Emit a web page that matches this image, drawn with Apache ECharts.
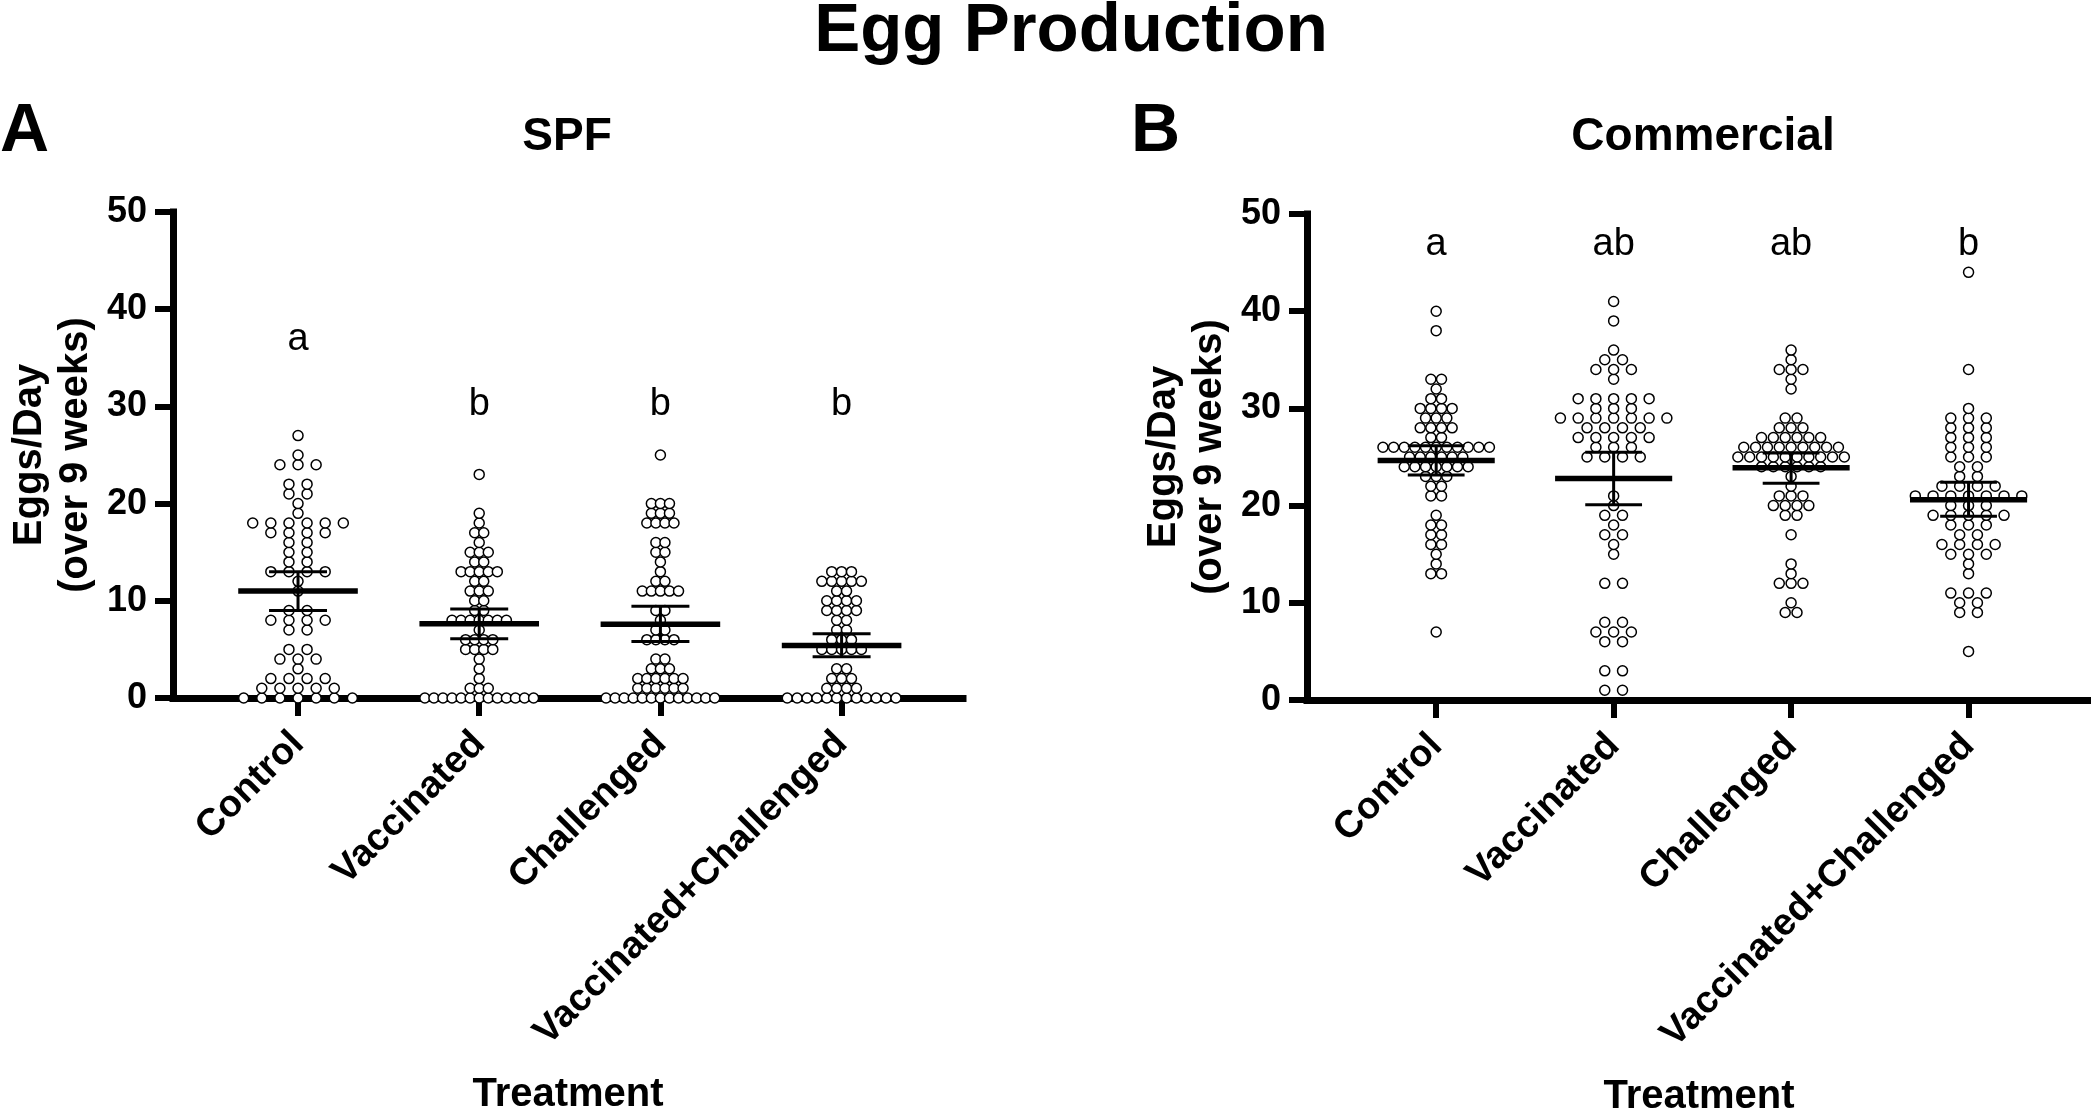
<!DOCTYPE html>
<html><head><meta charset="utf-8">
<script src="https://cdn.jsdelivr.net/npm/echarts@6/dist/echarts.min.js"></script>
<style>html,body{margin:0;padding:0;background:#fff}#c{width:2091px;height:1113px}</style>
</head><body><div id="c"></div>
<script>
// ---------- data ----------
const categories = ['Control', 'Vaccinated', 'Challenged', 'Vaccinated+Challenged'];
const yTickValues = [0, 10, 20, 30, 40, 50];

const spfControl = [27,25,24,24,24,22,22,21,21,20,19,18,18,18,18,18,18,17,17,17,17,16,16,15,15,14,14,13,13,13,13,12,11,9,9,8,8,8,8,7,7,5,5,4,4,4,3,2,2,2,2,1,1,1,1,1,0,0,0,0,0,0,0];
const spfVaccinated = [23,19,18,17,17,16,15,15,15,14,14,13,13,13,13,13,12,12,11,11,11,10,10,9,9,8,8,8,8,8,8,8,7,6,6,6,6,5,5,5,5,4,3,2,1,1,1,0,0,0,0,0,0,0,0,0,0,0,0,0];
const spfChallenged = [25,20,20,20,19,19,19,18,18,18,18,16,16,15,15,14,13,12,12,11,11,11,11,11,9,9,8,7,7,6,6,6,6,4,4,3,3,3,2,2,2,2,2,2,1,1,1,1,1,1,0,0,0,0,0,0,0,0,0,0,0,0,0];
const spfVacChal = [13,13,13,12,12,12,12,12,11,11,10,10,10,10,9,9,9,9,8,8,7,7,6,6,6,5,5,5,5,5,3,3,2,2,2,1,1,1,1,0,0,0,0,0,0,0,0,0,0,0,0];

const comControl = [40,38,33,33,32,31,31,30,30,30,30,29,29,29,28,28,28,28,27,27,26,26,26,26,26,26,26,26,26,26,26,25,25,25,25,25,25,24,24,24,24,24,24,24,23,23,23,22,22,21,21,19,18,18,17,17,16,16,15,14,13,13,7];
const comVaccinated = [41,39,36,35,35,34,34,34,33,31,31,31,31,31,30,30,30,29,29,29,29,29,29,29,28,28,28,28,27,27,27,27,27,26,26,26,25,25,25,25,21,20,19,19,18,17,17,16,15,12,12,8,8,7,7,7,6,6,3,3,1,1];
const comChallenged = [36,35,34,34,34,33,32,29,29,28,28,28,27,27,27,27,27,27,26,26,26,26,26,26,26,26,26,25,25,25,25,25,25,25,25,25,25,24,24,24,24,24,24,23,22,21,21,21,20,20,20,20,19,19,17,14,13,12,12,12,10,9,9];
const comVacChal = [44,34,30,29,29,29,28,28,28,27,27,27,26,26,26,25,25,25,24,24,23,23,22,22,22,22,21,21,21,21,21,21,21,20,20,20,19,19,19,19,19,18,18,18,17,17,16,16,16,16,15,15,15,14,13,11,11,11,10,10,9,9,5];

// mean and 95% CI
const spfMean  = [11.0, 7.65, 7.6, 5.4];
const spfLower = [9.0, 6.1, 5.8, 4.25];
const spfUpper = [13.0, 9.15, 9.45, 6.6];
const comMean  = [24.65, 22.8, 23.9, 20.6];
const comLower = [23.15, 20.1, 22.3, 18.9];
const comUpper = [26.15, 25.5, 25.4, 22.4];

// significance letters
const spfLetters = ['a', 'b', 'b', 'b'];
const spfLetterY = [36.9, 30.2, 30.2, 30.2];
const comLetters = ['a', 'ab', 'ab', 'b'];
const comLetterY = [46.9, 46.9, 46.9, 46.9];

// ---------- layout helpers ----------
const FONT = "'Liberation Sans', Arial, Helvetica, sans-serif";
const SWARM_WIDTH = 0.6; // widest row spans this fraction of a category step

function swarm(groups) {
  const pts = [];
  groups.forEach((vals, ci) => {
    const counts = {};
    vals.forEach(v => { counts[v] = (counts[v] || 0) + 1; });
    const maxCount = Math.max(...Object.values(counts));
    const step = maxCount > 1 ? SWARM_WIDTH / (maxCount - 1) : 0;
    Object.keys(counts).forEach(k => {
      const n = counts[k];
      for (let i = 0; i < n; i++) {
        pts.push([ci + (i - (n - 1) / 2) * step, Number(k)]);
      }
    });
  });
  return pts;
}

function statsData(mean, lo, hi) {
  return mean.map((m, i) => [i, m, lo[i], hi[i]]);
}

function renderStats(params, api) {
  const c = api.value(0), m = api.value(1), lo = api.value(2), hi = api.value(3);
  const pm = api.coord([c, m]);
  const plo = api.coord([c, lo]);
  const phi = api.coord([c, hi]);
  const unit = api.size([1, 0])[0];
  const mh = 0.33 * unit, ch = 0.16 * unit;
  const st = w => ({ stroke: '#000', lineWidth: w });
  return {
    type: 'group',
    children: [
      { type: 'line', shape: { x1: plo[0], y1: plo[1], x2: phi[0], y2: phi[1] }, style: st(3) },
      { type: 'line', shape: { x1: phi[0] - ch, y1: phi[1], x2: phi[0] + ch, y2: phi[1] }, style: st(3) },
      { type: 'line', shape: { x1: plo[0] - ch, y1: plo[1], x2: plo[0] + ch, y2: plo[1] }, style: st(3) },
      { type: 'line', shape: { x1: pm[0] - mh, y1: pm[1], x2: pm[0] + mh, y2: pm[1] }, style: st(5.5) }
    ]
  };
}

function makeLetterRenderer(letters) {
  return function (params, api) {
    const p = api.coord([api.value(0), api.value(1)]);
    return {
      type: 'text', x: p[0], y: p[1],
      style: {
        text: letters[params.dataIndex], fill: '#000', fontSize: 38, fontWeight: 'normal', fontFamily: FONT,
        align: 'center', verticalAlign: 'middle'
      }
    };
  };
}

const tickIdx = categories.map((c, i) => i);

function makeX(gridIndex, min, max) {
  return {
    gridIndex, type: 'value', min, max,
    splitLine: { show: false },
    axisLine: { show: true, onZero: false, lineStyle: { color: '#000', width: 7, cap: 'square' } },
    axisTick: { show: true, customValues: tickIdx, length: 18, lineStyle: { color: '#000', width: 6 } },
    axisLabel: {
      show: true, customValues: tickIdx, formatter: v => categories[Math.round(v)],
      rotate: 45, margin: 40, fontSize: 38, fontWeight: 'bold', color: '#000', fontFamily: FONT
    },
    name: 'Treatment', nameLocation: 'middle', nameGap: 377,
    nameTextStyle: { fontSize: 40, fontWeight: 'bold', color: '#000', fontFamily: FONT }
  };
}

function makeY(gridIndex) {
  return {
    gridIndex, type: 'value', min: 0, max: 50, interval: 10,
    splitLine: { show: false },
    axisLine: { show: true, onZero: false, lineStyle: { color: '#000', width: 7, cap: 'square' } },
    axisTick: { show: true, length: 18, lineStyle: { color: '#000', width: 6 } },
    axisLabel: {
      show: true, margin: 26, fontSize: 36, fontWeight: 'bold', color: '#000', fontFamily: FONT,
      formatter: v => (yTickValues.indexOf(v) >= 0 ? String(v) : '')
    },
    name: 'Eggs/Day\n(over 9 weeks)', nameLocation: 'middle', nameRotate: 90, nameGap: 74,
    nameTextStyle: { fontSize: 40, fontWeight: 'bold', color: '#000', fontFamily: FONT, lineHeight: 46, align: 'center' }
  };
}

function dotSeries(idx, groups) {
  return {
    type: 'scatter', xAxisIndex: idx, yAxisIndex: idx, silent: true, z: 2,
    symbol: 'circle', symbolSize: 10,
    itemStyle: { color: '#fff', borderColor: '#000', borderWidth: 1.5, opacity: 1 },
    data: swarm(groups)
  };
}

function statSeries(idx, mean, lo, hi) {
  return {
    type: 'custom', xAxisIndex: idx, yAxisIndex: idx, silent: true, z: 3,
    renderItem: renderStats, data: statsData(mean, lo, hi)
  };
}

function letterSeries(idx, letters, ys) {
  return {
    type: 'custom', xAxisIndex: idx, yAxisIndex: idx, silent: true, z: 4,
    renderItem: makeLetterRenderer(letters),
    data: ys.map((y, i) => [i, y])
  };
}

function txt(text, x, y, size, align, weight) {
  return {
    type: 'text', x, y, silent: true,
    style: {
      text, fill: '#000', fontSize: size, fontWeight: weight || 'bold', fontFamily: FONT,
      align: align || 'center', verticalAlign: 'middle'
    }
  };
}

const chart = echarts.init(document.getElementById('c'), null, { renderer: 'canvas' });
chart.setOption({
  backgroundColor: '#fff',
  animation: false,
  grid: [
    { left: 173, top: 212, width: 790, height: 486, containLabel: false, outerBoundsMode: 'none' },
    { left: 1307, top: 214, width: 784, height: 486, containLabel: false, outerBoundsMode: 'none' }
  ],
  xAxis: [makeX(0, -0.69, 3.67), makeX(1, -0.728, 3.69)],
  yAxis: [makeY(0), makeY(1)],
  graphic: [
    txt('Egg Production', 1071, 32, 69),
    txt('SPF', 567, 137, 46),
    txt('Commercial', 1703, 137, 46),
    txt('A', 0, 132, 68, 'left'),
    txt('B', 1131, 132, 68, 'left')
  ],
  series: [
    dotSeries(0, [spfControl, spfVaccinated, spfChallenged, spfVacChal]),
    statSeries(0, spfMean, spfLower, spfUpper),
    letterSeries(0, spfLetters, spfLetterY),
    dotSeries(1, [comControl, comVaccinated, comChallenged, comVacChal]),
    statSeries(1, comMean, comLower, comUpper),
    letterSeries(1, comLetters, comLetterY)
  ]
});
</script>
</body></html>
